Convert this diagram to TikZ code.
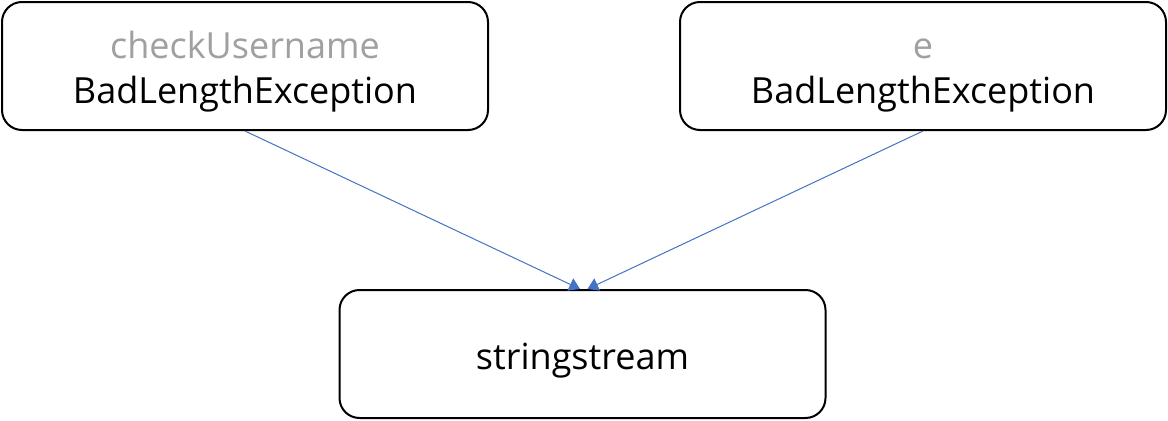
\documentclass[tikz,border=0pt]{standalone}
\usepackage{fontspec}
\setmainfont{Open Sans}
\usetikzlibrary{arrows.meta}
\definecolor{lblgray}{HTML}{A0A0A0}
\definecolor{linkblue}{HTML}{4472C4}
\newcommand{\boxtext}[1]{\raisebox{-4.5pt}[\height][\depth]{\begin{tabular}{@{}c@{}}#1\end{tabular}}}
\begin{document}
\begin{tikzpicture}[x=0.75pt,y=-0.75pt,
  box/.style={draw=black,line width=1.5pt,rounded corners=15pt,fill=white,
    minimum width=486*0.75pt,minimum height=128*0.75pt,inner sep=0pt,
    font=\fontsize{27pt}{34pt}\selectfont},
  link/.style={draw=linkblue,line width=0.75pt,-{Triangle[length=8pt,width=10pt]}}]
\useasboundingbox (0,0) rectangle (1168,421);
\node[box] (L) at (245,66) {\boxtext{\strut\textcolor{lblgray}{checkUsername}\\\strut BadLengthException}};
\node[box] (R) at (923,66) {\boxtext{\strut\textcolor{lblgray}{e}\\\strut BadLengthException}};
\node[box] (B) at (582.5,354) {\boxtext{stringstream}};
\coordinate (Bl) at ([xshift=-2.5*0.75pt]B.north);
\coordinate (Br) at ([xshift=5*0.75pt]B.north);
\draw[link] (L.south) -- (Bl);
\draw[link] (R.south) -- (Br);
\end{tikzpicture}
\end{document}
